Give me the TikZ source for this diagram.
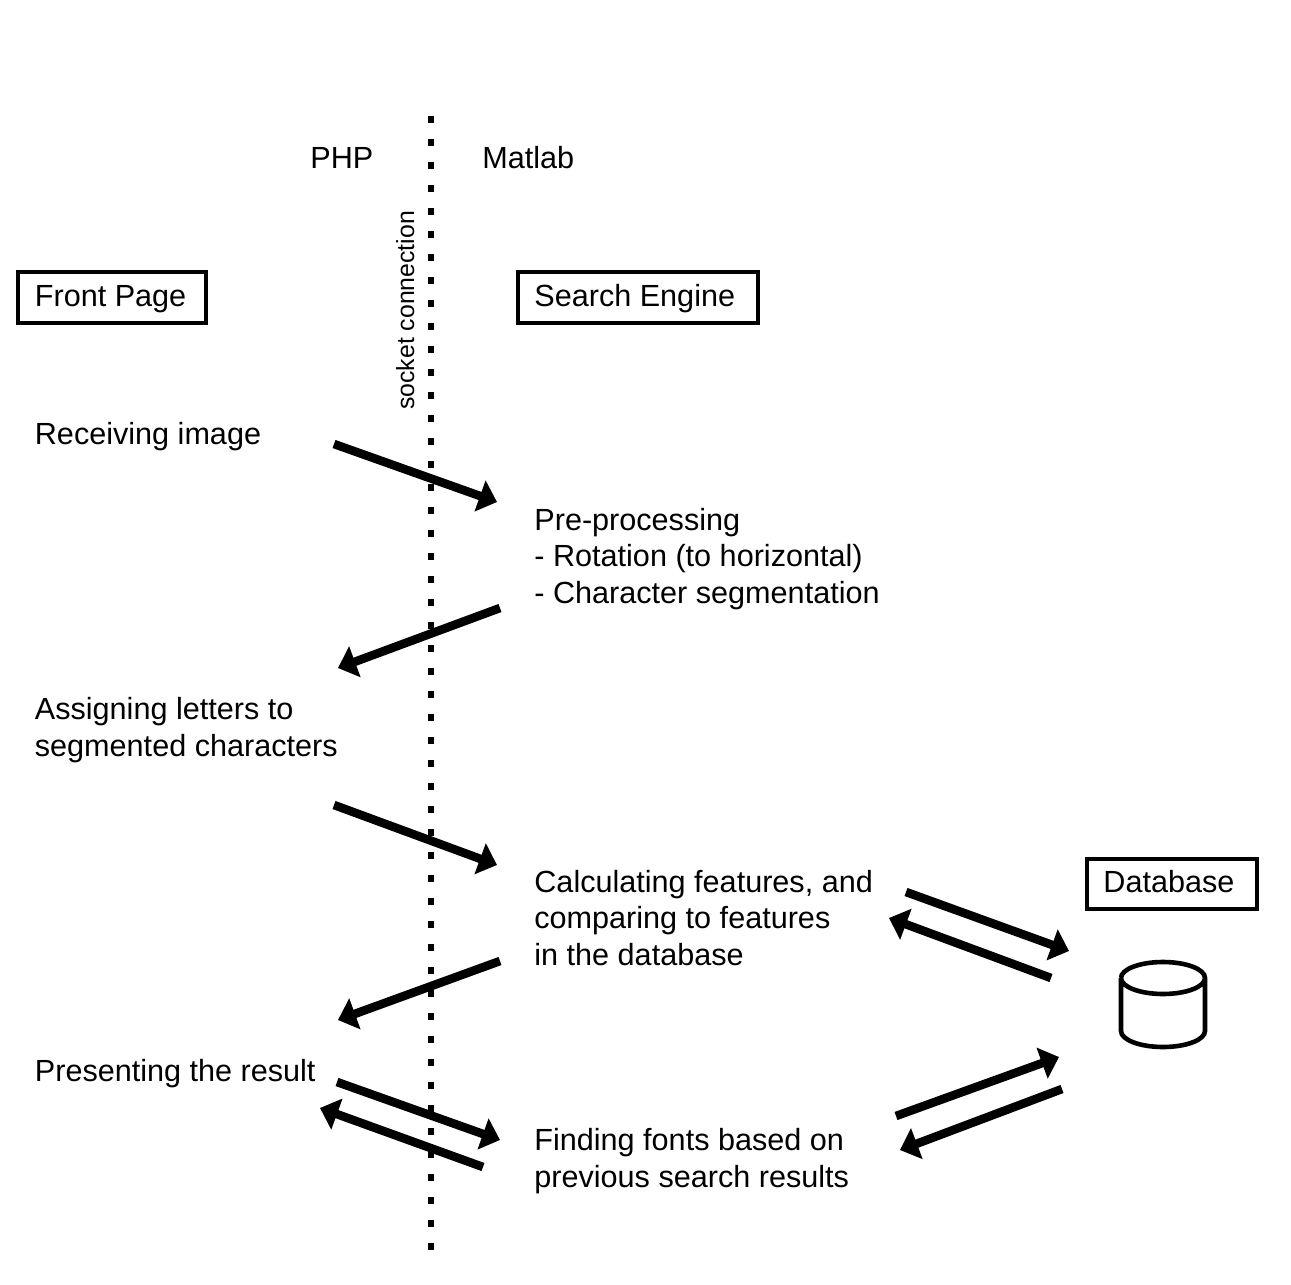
\documentclass[tikz,border=0pt]{standalone}
\usepackage{fontspec}
\setmainfont{Liberation Sans}
\usepackage{tikz}
\usetikzlibrary{arrows.meta,shapes.geometric}

\tikzset{
  label/.style={anchor=base west,inner sep=0pt,align=left,font=\fontsize{15.3}{18.25}\selectfont},
  outline/.style={line width=2.3pt},
  flow/.style={line width=4.3pt,-{Triangle[length=9pt,width=16pt]}},
}

\begin{document}
\begin{tikzpicture}[x=0.5pt,y=-0.5pt]
\useasboundingbox (0,0) rectangle (1291,1285);
\draw[line width=3pt,dash pattern=on 3.5pt off 8pt] (431,116) -- (431,1252);

\node[label] (php) at (310,168) {PHP};
\node[label] (matlab) at (482,168) {Matlab};
\node[label,rotate=90,font=\fontsize{12.4}{15}\selectfont] (socket) at (414,410) {socket connection};

\draw[outline] (18,272) rectangle (206,323);
\node[label] (front) at (34.5,306) {Front Page};
\draw[outline] (518,272) rectangle (758,323);
\node[label] (search) at (534,306) {Search Engine};
\draw[outline] (1087,859) rectangle (1257,909);
\node[label] (database) at (1103,892) {Database};

\node[label] (receiving) at (34.5,444) {Receiving image};
\node[label] (preproc) at (534,603) {Pre-processing\\- Rotation (to horizontal)\\- Character segmentation};
\node[label] (assign) at (34.5,756) {Assigning letters to\\segmented characters};
\node[label] (features) at (534,965) {Calculating features, and\\comparing to features\\in the database};
\node[label] (result) at (34.5,1081) {Presenting the result};
\node[label] (fonts) at (534,1187) {Finding fonts based on\\previous search results};

% cylinder
\draw[outline] (1121,978) arc[start angle=180,end angle=-180,x radius=42,y radius=16]
  (1121,978) -- (1121,1031) arc[start angle=180,end angle=0,x radius=42,y radius=16] -- (1205,978);

\coordinate (a1) at (334,444); \coordinate (b1) at (497,502);
\coordinate (a2) at (500,608); \coordinate (b2) at (338,668);
\coordinate (a3) at (334,805); \coordinate (b3) at (497,865);
\coordinate (a4) at (500,961); \coordinate (b4) at (338,1020);
\coordinate (a5) at (337,1082); \coordinate (b5) at (500,1140);
\coordinate (a6) at (483,1167); \coordinate (b6) at (320,1108);
\coordinate (a7) at (906,892); \coordinate (b7) at (1069,951);
\coordinate (a8) at (1051,978); \coordinate (b8) at (889,918);
\coordinate (a9) at (896,1116); \coordinate (b9) at (1059,1057);
\coordinate (a10) at (1062,1089); \coordinate (b10) at (900,1150);
\foreach \i in {1,...,10} \draw[flow] (a\i) -- (b\i);
\end{tikzpicture}
\end{document}
